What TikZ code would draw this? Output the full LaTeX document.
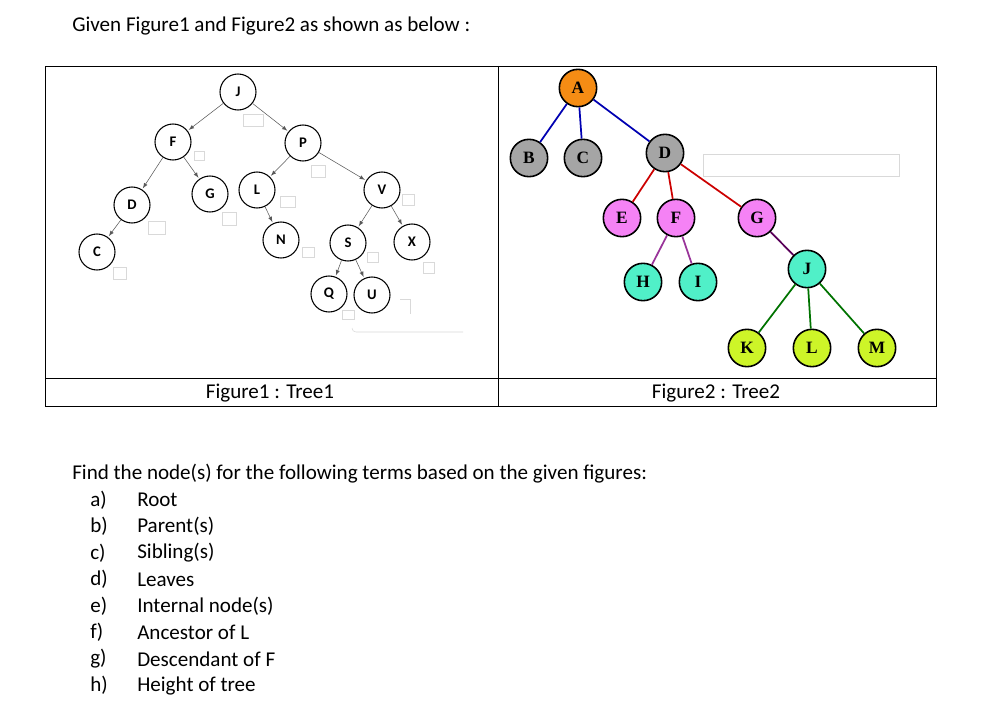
\documentclass[tikz,border=0pt]{standalone}
\usepackage{fontspec}
\setmainfont{Carlito}
\newfontfamily\timesfont{Liberation Serif}
\usepackage{xcolor}
\usetikzlibrary{arrows}
\definecolor{rootor}{RGB}{245,140,20}
\definecolor{greyn}{RGB}{165,165,165}
\definecolor{pinkn}{RGB}{245,130,245}
\definecolor{aquan}{RGB}{80,240,200}
\definecolor{limen}{RGB}{205,245,40}

\begin{document}
\begin{tikzpicture}[x=0.75pt,y=-0.75pt]
\tikzstyle{tnode} = [draw, circle, thick, minimum size=27pt, inner sep=0pt, font=\fontsize{11}{12}\selectfont\bfseries]
\tikzstyle{cnode} = [draw, circle, very thick, minimum size=28pt, inner sep=0pt, font=\timesfont\fontsize{13}{14}\selectfont\bfseries]
\tikzstyle{arr} = [draw, gray!70!black, -latex, shorten >=1pt]
\tikzstyle{ghost} = [draw, black!15]
\tikzstyle{edge} = [draw, line width=1.3pt]
\tikzstyle{txt} = [anchor=west, inner sep=0pt, font=\fontsize{15.8}{18}\selectfont]

\useasboundingbox (0,0) rectangle (990,724);
\fill[white] (0,0) rectangle (990,724);

% panels
\draw (45,66) rectangle (936,406);
\draw (498,66) -- (498,406);
\draw (45,378) -- (936,378);
\node[font=\fontsize{15.8}{18}\selectfont] (cap1) at (270,393) {Figure1 : Tree1};
\node[font=\fontsize{15.8}{18}\selectfont] (cap2) at (716,393) {Figure2 : Tree2};

% tree 1
\node [tnode] (J) at (238,92) {J};
\node [tnode] (F) at (173,142) {F};
\node [tnode] (P) at (303,143) {P};
\node [tnode] (D) at (132,205) {D};
\node [tnode] (G) at (210,194) {G};
\node [tnode] (L) at (257,190) {L};
\node [tnode] (V) at (382,190) {V};
\node [tnode] (C) at (97,252) {C};
\node [tnode] (N) at (281,240) {N};
\node [tnode] (S) at (348,243) {S};
\node [tnode] (X) at (412,242) {X};
\node [tnode] (Q) at (329,294) {Q};
\node [tnode] (U) at (372,295) {U};
\foreach \a/\b in {J/F, J/P, F/D, F/G, D/C, P/L, P/V, L/N, V/S, V/X, S/Q, S/U}
  \path [arr] (\a) -- (\b);
% faint boxes
\foreach \x/\y/\w/\h in {243/114/20/12, 194/151/10/9, 148/221/17/13, 222/212/14/13, 113/267/13/12, 311/165/14/12, 280/196/15/11, 402/194/12/11, 302/247/12/10, 367/252/11/10, 423/262/11/11, 342/310/12/9}
  \draw [ghost] (\x,\y) rectangle ++(\w,\h);
\draw [ghost] (400,299) -- (410,299) -- (410,314);
\draw [ghost] (463,332) -- (356,332) arc (90:180:4);

% tree 2
\node [cnode, fill=rootor] (a) at (578,88) {A};
\node [cnode, fill=greyn] (b) at (529,158) {B};
\node [cnode, fill=greyn] (c) at (583,158) {C};
\node [cnode, fill=greyn] (d) at (665,153) {D};
\node [cnode, fill=pinkn] (e) at (622,218) {E};
\node [cnode, fill=pinkn] (f) at (676,218) {F};
\node [cnode, fill=pinkn] (g) at (757,218) {G};
\node [cnode, fill=aquan] (h) at (643,282) {H};
\node [cnode, fill=aquan] (i) at (698,282) {I};
\node [cnode, fill=aquan] (j) at (807,269) {J};
\node [cnode, fill=limen] (k) at (747,348) {K};
\node [cnode, fill=limen] (l) at (812,348) {L};
\node [cnode, fill=limen] (m) at (877,348) {M};
\foreach \b in {b,c,d} \path [edge, blue!70!black] (a) -- (\b);
\foreach \b in {e,f,g} \path [edge, red!80!black] (d) -- (\b);
\foreach \b in {h,i} \path [edge, violet!80] (f) -- (\b);
\path [edge, violet!70!black] (g) -- (j);
\foreach \b in {k,l,m} \path [edge, green!45!black] (j) -- (\b);
\draw [ghost] (703,154) rectangle (899,176);

% text
\node [txt] (title) at (72,26) {Given Figure1 and Figure2 as shown as below :};
\node [txt] (find) at (72,474) {Find the node(s) for the following terms based on the given figures:};
\foreach \k/\t [count=\n from 0] in {a)/Root, b)/Parent(s), c)/Sibling(s), d)/Leaves, e)/Internal node(s), f)/Ancestor of L, g)/Descendant of F, h)/Height of tree} {
  \node [txt] (lab\n) at (90,500+26.5*\n) {\k};
  \node [txt] (item\n) at (137,500+26.5*\n) {\t};
}
\end{tikzpicture}
\end{document}
